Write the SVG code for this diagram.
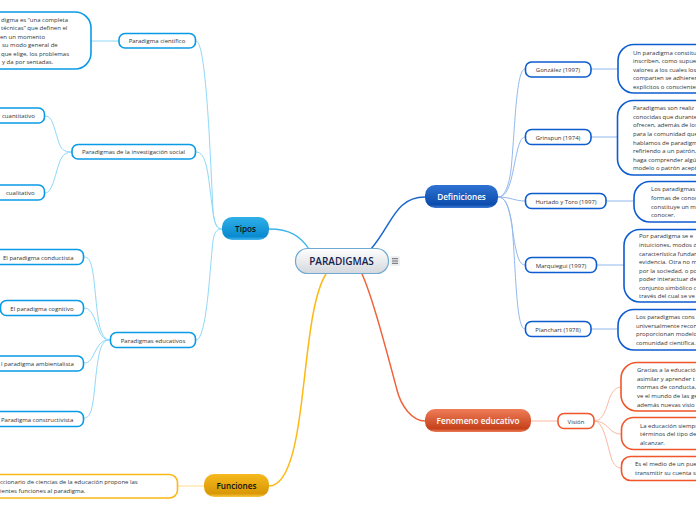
<svg xmlns="http://www.w3.org/2000/svg" width="696" height="520" viewBox="0 0 696 520">
<style>
text{font-family:"Open Sans","Noto Sans","Liberation Sans",sans-serif;font-size:6px;fill:#333}
.c{text-anchor:middle}
.m{font-size:8.200px;font-weight:600;text-anchor:middle}
.w{fill:#fff}
.k{fill:#111}
rect.b{fill:#fff;stroke-width:1.6}
.bl{stroke:#0a9be6}.db{stroke:#0d5cd0}.or{stroke:#f0562a}.ye{stroke:#fdb813}
#connectors path{fill:none;stroke-width:1}
.lb{stroke:#8fd8f8}.ld{stroke:#93b8ee}.lo{stroke:#fbb7a0}.ly{stroke:#fddc8c}
</style>
<defs>
<linearGradient id="gc" x1="0" y1="0" x2="0" y2="1"><stop offset="0" stop-color="#fff"/><stop offset="1" stop-color="#d4d8dc"/></linearGradient>
<linearGradient id="gt" x1="0" y1="0" x2="0" y2="1"><stop offset="0" stop-color="#2fb0e8"/><stop offset=".85" stop-color="#0a8ad0"/><stop offset="1" stop-color="#45b8ee"/></linearGradient>
<linearGradient id="gd" x1="0" y1="0" x2="0" y2="1"><stop offset="0" stop-color="#2f73d2"/><stop offset=".85" stop-color="#0c4cac"/><stop offset="1" stop-color="#3f7cd8"/></linearGradient>
<linearGradient id="gf" x1="0" y1="0" x2="0" y2="1"><stop offset="0" stop-color="#ef7d58"/><stop offset=".85" stop-color="#c5421b"/><stop offset="1" stop-color="#ee7d58"/></linearGradient>
<linearGradient id="gy" x1="0" y1="0" x2="0" y2="1"><stop offset="0" stop-color="#f6b91e"/><stop offset=".85" stop-color="#d99806"/><stop offset="1" stop-color="#f8c93e"/></linearGradient>
</defs>
<g id="connectors">
<path d="M269 229C290 229 300 236 309 249" stroke="#3db5ea" style="stroke-width:1.3"/>
<path d="M371 249C392 225 395 197 425 197" stroke="#1a66d0" style="stroke-width:1.5"/>
<path d="M362 274C372 296 385 345 397 390C401 406 412 421 425 421" stroke="#f0623a" style="stroke-width:1.5"/>
<path d="M326 274C312 296 308 350 303 390C299 425 292 486 269 486" stroke="#fdb813" style="stroke-width:1.5"/>
<path class="lb" d="M222 229C216 229 214 222 213 210C210 150 206 41 196 41"/>
<path class="lb" d="M222 229C216 229 214 222 212 205C208 175 207 152 196 152"/>
<path class="lb" d="M222 229C215 229 214 235 213 241C210 265 207 340 196 340"/>
<path class="lb" d="M119 41H91"/>
<path class="lb" d="M72 152C60 152 60 146 55 130C52 120 50 116 45 116"/>
<path class="lb" d="M72 152C62 152 60 160 57 170C53 185 50 193 45 193"/>
<path class="lb" d="M110 340C100 340 98 320 96 300C93 270 92 257 84 257"/>
<path class="lb" d="M110 340C102 340 100 333 97 325C93 314 90 308 84 308"/>
<path class="lb" d="M110 340C102 340 100 343 96 350C92 358 90 363 84 363"/>
<path class="lb" d="M110 340C101 340 99 350 96 375C93 405 92 418 84 418"/>
<path class="ly" d="M204 486H178"/>
<path class="ld" d="M498 197C505 197 509 185 511 170C515 130 516 69 525 69"/>
<path class="ld" d="M498 197C505 197 508 190 511 180C516 160 518 137 525 137"/>
<path class="ld" d="M498 197C510 197 515 201 525 201"/>
<path class="ld" d="M498 197C505 197 508 205 511 220C515 245 517 265 525 265"/>
<path class="ld" d="M498 197C505 197 509 205 512 225C516 270 516 329 525 329"/>
<path class="ld" d="M591 69H618"/>
<path class="ld" d="M591 137H617"/>
<path class="ld" d="M606 201H634"/>
<path class="ld" d="M597 265H624"/>
<path class="ld" d="M591 329H618"/>
<path class="lo" d="M531 421H558"/>
<path class="lo" d="M594 421C604 421 607 405 610 397C613 390 617 387 621 387"/>
<path class="lo" d="M594 421C604 421 608 428 612 431C615 433 617 434 621 434"/>
<path class="lo" d="M594 421C604 421 607 445 612 460C614 465 617 468 621 468"/>
</g>
<g id="central"><rect x="295.500" y="248.500" width="93" height="25" rx="12" fill="url(#gc)" stroke="#6da9d2" stroke-width="1.200"/><text x="341.500" y="265" class="c" style="font-size:10px;font-weight:600;fill:#14234f">PARADIGMAS</text></g>
<g id="menu-icon"><rect x="390" y="256" width="10" height="10" rx="2" fill="#eceef0"/><path d="M392 258.700H398M392 261H398M392 263.300H398" stroke="#444" stroke-width=".8"/></g>
<g id="tipos"><rect x="222" y="217" width="47" height="23" rx="10" fill="url(#gt)"/><text x="245.500" y="231.500" class="m k">Tipos</text></g>
<g id="definiciones"><rect x="425" y="185" width="73" height="23" rx="10" fill="url(#gd)"/><text x="461.500" y="199.500" class="m w">Definiciones</text></g>
<g id="fenomeno"><rect x="425" y="409" width="106" height="23" rx="10" fill="url(#gf)"/><text x="478" y="423.500" class="m w">Fenomeno educativo</text></g>
<g id="funciones"><rect x="204" y="474" width="65" height="23" rx="10" fill="url(#gy)"/><text x="236.500" y="488.500" class="m k">Funciones</text></g>
<g id="cientifico"><rect class="b bl" x="119" y="33.500" width="76.500" height="14.500" rx="6"/><text x="157" y="43" class="c">Paradigma científico</text></g>
<g id="investigacion"><rect class="b bl" x="72" y="144.500" width="123.500" height="14.500" rx="6"/><text x="133.500" y="154" class="c">Paradigmas de la investigación social</text></g>
<g id="educativos"><rect class="b bl" x="110.500" y="332.500" width="85" height="15" rx="6"/><text x="153" y="343" class="c">Paradigmas educativos</text></g>
<g id="def-cientifico"><rect class="b bl" x="-20" y="12" width="111" height="57" rx="16"/>
<text x="1" y="22">digma es “una completa</text><text x="1" y="30">técnicas” que definen el</text><text x="0" y="38.500">en un momento</text><text x="2" y="47">su modo general de</text><text x="1" y="55.500">que elige, los problemas</text><text x="2" y="63.500">y da por sentadas.</text></g>
<g id="cuantitativo"><rect class="b bl" x="-20" y="108" width="64.500" height="15" rx="6"/><text x="2" y="118">cuantitativo</text></g>
<g id="cualitativo"><rect class="b bl" x="-20" y="185" width="64.500" height="15" rx="6"/><text x="6" y="195">cualitativo</text></g>
<g id="conductista"><rect class="b bl" x="-20" y="249.500" width="103.500" height="15" rx="6"/><text x="3" y="260">El paradigma conductista</text></g>
<g id="cognitivo"><rect class="b bl" x="0.500" y="300.500" width="83" height="15" rx="6"/><text x="42" y="311" class="c">El paradigma cognitivo</text></g>
<g id="ambientalista"><rect class="b bl" x="-20" y="356" width="103.500" height="15" rx="6"/><text x="1" y="366">l paradigma ambientalista</text></g>
<g id="constructivista"><rect class="b bl" x="-20" y="411.500" width="103.500" height="15" rx="6"/><text x="1" y="422">Paradigma constructivista</text></g>
<g id="def-funciones"><rect class="b ye" x="-20" y="474.500" width="197.500" height="23.500" rx="8"/><text x="0" y="484">ccionario de ciencias de la educación propone las</text><text x="0" y="493">ientes funciones al paradigma.</text></g>
<g id="gonzalez"><rect class="b db" x="525.500" y="62" width="65.500" height="15" rx="6"/><text x="558" y="72" class="c">González (1997)</text></g>
<g id="grinspun"><rect class="b db" x="525.500" y="129.500" width="65.500" height="15" rx="6"/><text x="558" y="140" class="c">Grinspun (1974)</text></g>
<g id="hurtado"><rect class="b db" x="525.500" y="193.500" width="80.500" height="15" rx="6"/><text x="566" y="204" class="c">Hurtado y Toro (1997)</text></g>
<g id="marquiegui"><rect class="b db" x="525.500" y="257.500" width="71" height="15" rx="6"/><text x="561" y="268" class="c">Marquiegui (1997)</text></g>
<g id="planchart"><rect class="b db" x="525.500" y="321.500" width="65.500" height="15" rx="6"/><text x="558" y="332" class="c">Planchart (1978)</text></g>
<g id="def-gonzalez"><rect class="b db" x="618" y="44.500" width="110" height="48.500" rx="16"/>
<text x="633" y="55">Un paradigma constituy</text><text x="633" y="63">inscriben, como supues</text><text x="633" y="71.500">valores a los cuales los</text><text x="633" y="80">comparten se adhieren</text><text x="633" y="89">explícitos o conscienter</text></g>
<g id="def-grinspun"><rect class="b db" x="617.500" y="100.500" width="110" height="74.500" rx="16"/>
<text x="633" y="110">Paradigmas son realiz</text><text x="633" y="118.500">conocidas que durante</text><text x="633" y="127">ofrecen, además de los</text><text x="633" y="136">para la comunidad que</text><text x="633" y="144.500">hablamos de paradigm</text><text x="633" y="153">refiriendo a un patrón,</text><text x="633" y="161.500">haga comprender algú</text><text x="633" y="170">modelo o patrón acept</text></g>
<g id="def-hurtado"><rect class="b db" x="634" y="181.500" width="90" height="40.500" rx="16"/>
<text x="651" y="191">Los paradigmas s</text><text x="651" y="200">formas de conoc</text><text x="651" y="208.500">constituye un m</text><text x="651" y="217">conocer.</text></g>
<g id="def-marquiegui"><rect class="b db" x="624" y="229.500" width="100" height="72.500" rx="16"/>
<text x="639" y="238">Por paradigma se e</text><text x="639" y="247">intuiciones, modos d</text><text x="639" y="255.500">característica fundar</text><text x="639" y="264">evidencia. Otra no m</text><text x="639" y="272.500">por la sociedad, o po</text><text x="639" y="281">poder interactuar de</text><text x="639" y="289.500">conjunto simbólico c</text><text x="639" y="298">través del cual se ve</text></g>
<g id="def-planchart"><rect class="b db" x="618" y="309.500" width="110" height="40.500" rx="16"/>
<text x="636" y="319">Los paradigmas cons</text><text x="636" y="327.500">universalmente recon</text><text x="636" y="336">proporcionan modelo</text><text x="636" y="345">comunidad científica.</text></g>
<g id="vision"><rect class="b or" x="558" y="413.500" width="36" height="15" rx="6"/><text x="576" y="424" class="c">Visión</text></g>
<g id="def-vision-1"><rect class="b or" x="621" y="362.500" width="110" height="48.500" rx="16"/>
<text x="637" y="372">Gracias a la educació</text><text x="637" y="381">asimilar y aprender t</text><text x="637" y="389">normas de conducta,</text><text x="637" y="398">ve el mundo de las ge</text><text x="637" y="406.500">además nuevas visio</text></g>
<g id="def-vision-2"><rect class="b or" x="621.500" y="417.500" width="110" height="32" rx="12"/>
<text x="640" y="427.500">La educación siempr</text><text x="640" y="436">términos del tipo de</text><text x="640" y="445">alcanzar.</text></g>
<g id="def-vision-3"><rect class="b or" x="621.500" y="456.500" width="110" height="24" rx="9"/>
<text x="635" y="466">Es el medio de un pue</text><text x="635" y="475">transmitir su cuenta s</text></g>
</svg>
